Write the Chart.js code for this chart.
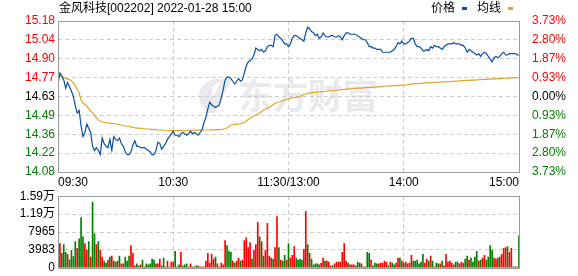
<!DOCTYPE html>
<html><head><meta charset="utf-8">
<script src="https://cdn.jsdelivr.net/npm/chart.js@4/dist/chart.umd.min.js"></script>
<style>
html,body{margin:0;padding:0;background:#fff;width:578px;height:276px;overflow:hidden;position:relative}
#c1{position:absolute;left:0;top:0}
#c2{position:absolute;left:0;top:186px}
</style></head><body>
<canvas id="c1" width="578" height="190"></canvas>
<canvas id="c2" width="578" height="92"></canvas>
<script>
const title = "金风科技[002202] 2022-01-28 15:00";
const legendNames = ["价格", "均线"];
const watermarkText = "东方财富";
const prevClose = 14.63;
const pctRange = 0.0373;
const priceTicks = ["15.18","15.04","14.90","14.77","14.63","14.49","14.36","14.22","14.08"];
const pctTicks = ["3.73%","2.80%","1.87%","0.93%","0.00%","0.93%","1.87%","2.80%","3.73%"];
const timeTicks = ["09:30","10:30","11:30/13:00","14:00","15:00"];
const timeTickIndex = [0,60,120,180,240];
const volTicks = ["0","3983","7965","1.19万","1.59万"];
const volTickValues = [0,3983,7965,11948,15930];

const price = [
14.72,14.80,14.78,14.75,14.69,14.73,14.70,14.67,14.63,14.56,
14.51,14.53,14.42,14.34,14.37,14.43,14.40,14.37,14.27,14.24,
14.26,14.24,14.21,14.33,14.29,14.27,14.26,14.32,14.24,14.34,
14.32,14.31,14.33,14.29,14.27,14.23,14.21,14.21,14.23,14.28,
14.31,14.27,14.27,14.26,14.26,14.26,14.25,14.24,14.23,14.21,
14.21,14.24,14.30,14.29,14.25,14.27,14.29,14.32,14.34,14.36,
14.38,14.35,14.35,14.34,14.36,14.37,14.36,14.35,14.36,14.38,
14.36,14.37,14.36,14.35,14.37,14.39,14.44,14.48,14.54,14.59,
14.57,14.56,14.55,14.56,14.57,14.62,14.68,14.75,14.77,14.77,
14.76,14.74,14.72,14.74,14.76,14.74,14.75,14.80,14.85,14.88,
14.89,14.90,14.93,14.98,14.97,14.96,14.97,14.95,14.96,14.99,
15.00,15.00,14.99,15.07,15.08,15.06,15.05,15.03,15.01,15.01,
14.99,15.01,15.05,15.07,15.07,15.06,15.05,15.04,15.03,15.09,
15.13,15.12,15.10,15.09,15.07,15.08,15.05,15.06,15.09,15.07,
15.06,15.06,15.07,15.07,15.06,15.06,15.07,15.06,15.04,15.07,
15.09,15.09,15.08,15.08,15.08,15.08,15.07,15.06,15.05,15.04,
15.04,15.02,14.99,14.99,14.98,14.98,14.97,14.97,14.97,14.95,
14.95,14.95,14.95,14.95,14.96,14.97,14.99,15.02,15.01,15.03,
15.01,15.01,15.02,15.03,15.05,15.05,15.01,14.99,14.99,14.98,
14.96,14.96,14.97,14.96,14.99,14.98,15.00,14.99,14.99,14.98,
14.97,14.99,15.00,15.01,15.01,15.01,15.02,15.01,15.01,15.01,
15.00,15.00,14.98,14.95,14.97,14.96,14.95,14.94,14.93,14.94,
14.92,14.94,14.95,14.94,14.92,14.90,14.88,14.91,14.92,14.91,
14.92,14.94,14.95,14.93,14.93,14.94,14.94,14.94,14.94,14.93,
14.93];

const avgPrice = [
14.785,14.782,14.775,14.767,14.762,14.756,14.751,14.742,14.728,14.706,
14.681,14.655,14.605,14.583,14.572,14.561,14.543,14.525,14.511,14.493,
14.475,14.460,14.453,14.446,14.442,14.442,14.438,14.438,14.435,14.435,
14.431,14.429,14.426,14.424,14.420,14.417,14.415,14.412,14.410,14.407,
14.404,14.402,14.402,14.400,14.399,14.397,14.395,14.395,14.393,14.392,
14.390,14.390,14.388,14.388,14.388,14.386,14.386,14.386,14.384,14.384,
14.383,14.383,14.383,14.383,14.384,14.384,14.384,14.385,14.385,14.386,
14.386,14.387,14.387,14.387,14.387,14.388,14.388,14.388,14.388,14.388,
14.389,14.389,14.389,14.390,14.391,14.392,14.394,14.397,14.402,14.413,
14.424,14.426,14.428,14.430,14.431,14.433,14.438,14.442,14.453,14.464,
14.472,14.482,14.489,14.496,14.500,14.511,14.522,14.532,14.540,14.547,
14.552,14.561,14.571,14.579,14.587,14.590,14.594,14.600,14.605,14.610,
14.613,14.616,14.619,14.621,14.623,14.625,14.630,14.637,14.644,14.648,
14.652,14.654,14.656,14.658,14.660,14.662,14.663,14.665,14.666,14.668,
14.669,14.670,14.672,14.673,14.675,14.676,14.677,14.678,14.680,14.681,
14.683,14.684,14.685,14.686,14.688,14.689,14.690,14.691,14.691,14.693,
14.694,14.695,14.696,14.696,14.697,14.698,14.699,14.700,14.701,14.702,
14.704,14.705,14.706,14.707,14.707,14.708,14.709,14.710,14.711,14.712,
14.712,14.713,14.715,14.717,14.719,14.721,14.723,14.724,14.725,14.725,
14.726,14.728,14.728,14.729,14.730,14.731,14.732,14.733,14.733,14.734,
14.735,14.736,14.736,14.738,14.738,14.739,14.740,14.741,14.742,14.743,
14.743,14.745,14.746,14.746,14.747,14.748,14.748,14.749,14.750,14.751,
14.752,14.753,14.754,14.754,14.755,14.756,14.756,14.757,14.758,14.759,
14.759,14.760,14.761,14.762,14.762,14.763,14.764,14.764,14.765,14.767,
14.767];

const volume = [
0,
5385,3231,5170,3446,3016,1795,3877,2513,5816,4308,
6462,11201,6893,5385,3877,5816,2369,14647,7539,5170,
5816,3877,2369,1508,1077,1723,2369,2585,1508,1292,
1508,2585,862,862,2369,1508,2585,4954,3231,431,
862,431,646,1723,215,862,646,862,1939,1723,
862,862,1939,431,2154,215,1508,215,1292,1292,
3662,215,646,3446,431,646,862,215,862,215,
215,431,431,215,
215,215,1508,3231,1077,3016,1939,
2369,862,215,1077,646,6031,4954,3662,3446,1508,
1077,1508,2154,1508,1723,6031,6677,4523,5600,1939,
3877,5170,10124,6893,5816,2585,3877,9908,2585,2154,
1939,4523,11416,4523,1723,1508,2800,1723,5385,
2154,2800,4739,2154,1723,1939,1723,4093,12493,5170,
3231,1939,646,862,862,646,1077,2154,1508,1508,
1292,431,431,862,1292,1292,1292,3446,5385,1508,
1077,646,646,646,431,1292,1077,862,215,215,
3446,3231,1723,431,1077,862,862,1077,1077,1508,
1292,431,1292,1077,646,1077,2154,2154,1508,1077,
1292,862,1077,2800,1508,1508,1723,862,1292,3016,
1077,1939,1508,2585,1508,215,1077,862,862,1508,
431,3016,1292,1508,1077,646,1292,1292,862,1292,
1077,1939,2585,1723,2154,1292,2369,3662,1508,1723,
2154,2800,1723,2369,4954,3877,2154,1939,2154,2369,
3016,4308,4523,4739,3446,4308,215,215,215,7108];

// 1 = up (red), 0 = down (green)
const volUp = [
1,
1,0,0,0,1,0,0,0,0,1,
0,0,0,1,1,0,1,0,0,1,
0,1,1,0,0,1,0,1,0,0,
1,0,1,1,0,0,0,1,1,1,
0,0,1,0,1,0,0,0,0,0,
1,1,1,0,0,1,1,0,1,1,
0,0,0,1,0,0,0,1,1,0,
1,0,0,1,
1,1,1,1,1,1,1,
0,1,0,1,1,1,0,0,0,1,
0,1,1,0,1,1,1,1,1,0,
1,1,1,0,1,0,1,1,1,1,
0,1,1,0,1,0,0,1,0,
1,1,1,0,0,0,0,1,1,0,
1,0,0,0,0,0,1,1,0,1,
1,1,0,1,1,1,1,1,1,1,
0,1,1,1,0,0,0,1,0,1,
0,0,1,0,0,0,1,1,1,1,
1,0,1,0,0,1,1,0,1,0,
1,1,1,1,0,0,0,0,0,0,
1,1,0,1,0,1,0,0,1,0,
1,1,1,1,1,1,0,0,1,1,
1,0,0,1,0,0,0,0,1,0,
1,1,0,0,0,0,1,1,0,1,
1,1,1,0,1,1,1,0,1,0];

const RED = '#FF0000', GREEN = '#008000', BLACK = '#000000';
const PRICE_COLOR = '#0B4FA3', AVG_COLOR = '#E0A526';
const GRID = '#CCCCCC', FRAME = '#999999';
const FONT = '"Liberation Sans","Noto Sans CJK SC",sans-serif';

Chart.defaults.font.family = FONT;
Chart.defaults.font.size = 12;
Chart.defaults.color = BLACK;

const pMax = prevClose * (1 + pctRange);
const pMin = prevClose * (1 - pctRange);
function evenTicks(min, max, n) {
  const t = [];
  for (let k = 0; k < n; k++) t.push({ value: min + k * (max - min) / (n - 1) });
  return t;
}
const innerGrid = (n) => (ctx) => (ctx.index > 0 && ctx.index < n - 1) ? GRID : 'rgba(0,0,0,0)';

const framePlugin = {
  id: 'frame',
  beforeDraw(chart, args, opts) {
    if (!opts.watermark) return;
    const { ctx } = chart;
    ctx.save();
    ctx.fillStyle = '#E9E9EE';
    // logo swirl
    ctx.beginPath();
    ctx.arc(216, 96, 17, Math.PI * 0.55, Math.PI * 1.75, false);
    ctx.arc(222, 92, 10, Math.PI * 1.7, Math.PI * 0.6, true);
    ctx.closePath();
    ctx.fill();
    ctx.beginPath();
    ctx.moveTo(222, 79); ctx.lineTo(232, 79); ctx.lineTo(214, 113); ctx.lineTo(205, 113);
    ctx.closePath(); ctx.fill();
    ctx.font = 'bold 35px "Noto Sans CJK SC",sans-serif';
    ctx.textBaseline = 'middle';
    ctx.fillText(watermarkText, 238, 96);
    ctx.restore();
  },
  afterDraw(chart, args, opts) {
    const { ctx, chartArea: a } = chart;
    ctx.save();
    ctx.strokeStyle = FRAME;
    ctx.lineWidth = 1;
    ctx.strokeRect(Math.round(a.left) + 0.5, Math.round(a.top) + 0.5,
                   Math.round(a.right - a.left), Math.round(a.bottom - a.top));
    if (opts.header) {
      ctx.font = '12px ' + FONT;
      ctx.fillStyle = BLACK;
      ctx.textBaseline = 'middle';
      ctx.textAlign = 'left';
      ctx.fillText(title, 59, 9);
      ctx.fillText(legendNames[0], 431, 9);
      ctx.fillStyle = PRICE_COLOR;
      ctx.fillRect(462, 7, 5, 3);
      ctx.fillStyle = BLACK;
      ctx.fillText(legendNames[1], 477, 9);
      ctx.fillStyle = AVG_COLOR;
      ctx.fillRect(508, 7, 5, 3);
    }
    ctx.restore();
  }
};

new Chart(document.getElementById('c1'), {
  type: 'line',
  data: {
    datasets: [
      { data: price.map((v, i) => ({ x: i, y: v })), borderColor: PRICE_COLOR, borderWidth: 1.2,
        pointRadius: 0, tension: 0, yAxisID: 'y' },
      { data: avgPrice.map((v, i) => ({ x: i, y: v })), borderColor: AVG_COLOR, borderWidth: 1.2,
        pointRadius: 0, tension: 0, yAxisID: 'y' }
    ]
  },
  options: {
    responsive: false, animation: false, devicePixelRatio: 1,
    layout: { padding: { top: 21, left: 0, right: 0, bottom: 0 } },
    plugins: { legend: { display: false }, tooltip: { enabled: false },
               frame: { watermark: true, header: true } },
    scales: {
      x: {
        type: 'linear', min: 0, max: 240,
        afterBuildTicks: s => { s.ticks = timeTickIndex.map(v => ({ value: v })); },
        afterFit: s => { s.height = 18; },
        ticks: { autoSkip: false, maxRotation: 0, align: 'inner', padding: 3, color: BLACK,
                 callback: (v, i) => timeTicks[i] },
        grid: { drawTicks: false, lineWidth: 1, color: innerGrid(timeTicks.length) },
        border: { display: false, dash: [4, 3] }
      },
      y: {
        position: 'left', min: pMin, max: pMax,
        afterBuildTicks: s => { s.ticks = evenTicks(pMin, pMax, priceTicks.length); },
        afterFit: s => { s.width = 58; },
        ticks: { autoSkip: false, padding: 3,
                 callback: (v, i) => priceTicks[priceTicks.length - 1 - i],
                 color: ctx => ctx.index > 4 ? RED : (ctx.index === 4 ? BLACK : GREEN) },
        grid: { drawTicks: false, lineWidth: 1, color: innerGrid(priceTicks.length) },
        border: { display: false, dash: [4, 3] }
      },
      y2: {
        position: 'right', min: pMin, max: pMax,
        afterBuildTicks: s => { s.ticks = evenTicks(pMin, pMax, pctTicks.length); },
        afterFit: s => { s.width = 59; },
        ticks: { autoSkip: false, padding: 5,
                 callback: (v, i) => pctTicks[pctTicks.length - 1 - i],
                 color: ctx => ctx.index > 4 ? RED : (ctx.index === 4 ? BLACK : GREEN) },
        grid: { display: false },
        border: { display: false }
      }
    }
  },
  plugins: [framePlugin]
});

new Chart(document.getElementById('c2'), {
  type: 'bar',
  data: {
    datasets: [{
      data: volume.map((v, i) => ({ x: i, y: v })),
      backgroundColor: volUp.map(u => u ? RED : GREEN),
      barThickness: 1, borderWidth: 0
    }]
  },
  options: {
    responsive: false, animation: false, devicePixelRatio: 1,
    layout: { padding: { top: 10, right: 59, left: 0, bottom: 0 } },
    plugins: { legend: { display: false }, tooltip: { enabled: false },
               frame: { watermark: false, header: false } },
    scales: {
      x: {
        type: 'linear', min: 0, max: 240, offset: false,
        afterBuildTicks: s => { s.ticks = timeTickIndex.map(v => ({ value: v })); },
        afterFit: s => { s.height = 8; },
        ticks: { display: false },
        grid: { offset: false, drawTicks: false, lineWidth: 1, color: innerGrid(timeTicks.length) },
        border: { display: false, dash: [4, 3] }
      },
      y: {
        min: 0, max: volTickValues[volTickValues.length - 1],
        afterBuildTicks: s => { s.ticks = volTickValues.map(v => ({ value: v })); },
        afterFit: s => { s.width = 58; },
        ticks: { autoSkip: false, padding: 3, color: BLACK, callback: (v, i) => volTicks[i] },
        grid: { drawTicks: false, lineWidth: 1, color: innerGrid(volTicks.length) },
        border: { display: false, dash: [4, 3] }
      }
    }
  },
  plugins: [framePlugin]
});
</script>
</body></html>
